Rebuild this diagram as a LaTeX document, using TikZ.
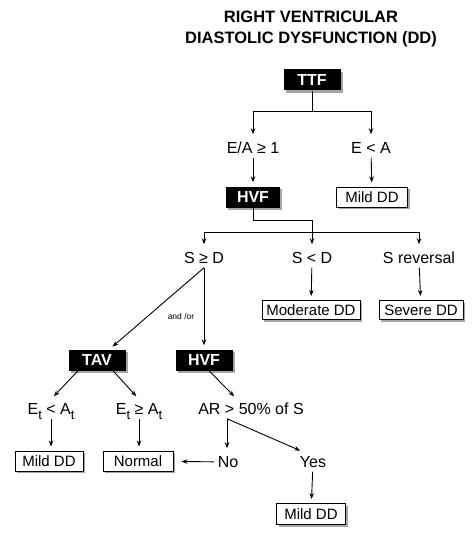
\documentclass[tikz,border=0pt]{standalone}
\usepackage{fontspec}
\setmainfont{Liberation Sans}
\usetikzlibrary{arrows.meta,shadows}
\newcommand{\sbt}{\raisebox{-0.28em}{\fontsize{13}{13}\selectfont t}}
\tikzset{
  lbl/.style={inner sep=0pt, outer sep=4pt, font=\fontsize{16}{18}\selectfont, text height=11.5pt, text depth=0pt},
  ttl/.style={inner sep=0pt, font=\bfseries\fontsize{16.5}{18}\selectfont},
  wbox/.style={draw, line width=1pt, fill=white, inner sep=0pt, minimum height=20pt,
    font=\fontsize{15}{17}\selectfont, text height=10.8pt, text depth=0pt,
    drop shadow={shadow xshift=2.2pt, shadow yshift=-2.2pt, fill=black!35, opacity=1}},
  bbox/.style={fill=black, text=white, inner sep=0pt, minimum height=21pt,
    font=\bfseries\fontsize{16}{18}\selectfont, text height=11.5pt, text depth=0pt,
    drop shadow={shadow xshift=2.2pt, shadow yshift=-2.2pt, fill=black!35, opacity=1}},
  arr/.style={line width=0.9pt, -{Stealth[length=6pt,width=4.5pt]}, shorten >=4pt},
  ln/.style={line width=0.9pt},
  small/.style={inner sep=0pt, font=\fontsize{8.5}{10}\selectfont}
}
\begin{document}
\begin{tikzpicture}[x=1pt,y=-1pt]
\useasboundingbox[fill=white] (0,0) rectangle (474,548);
% title
\node[ttl] (t1) at (311,16.5) {RIGHT VENTRICULAR};
\node[ttl] (t2) at (311,39) {DIASTOLIC DYSFUNCTION (DD)};
% level 1
\node[bbox, minimum width=57pt] (ttf) at (312,80) {TTF};
\node[lbl] (ea) at (253,148) {E/A ≥ 1};
\node[lbl] (elta) at (371,148) {E < A};
\node[bbox, minimum width=54pt] (hvfa) at (253,197) {HVF};
\node[wbox, minimum width=71pt] (milda) at (372,197) {Mild DD};
% level 2
\node[lbl] (sged) at (204,258) {S ≥ D};
\node[lbl] (sltd) at (312,258) {S < D};
\node[lbl] (srev) at (419,258) {S reversal};
\node[wbox, minimum width=98pt, minimum height=19pt] (mod) at (311,310) {Moderate DD};
\node[wbox, minimum width=84pt, minimum height=19pt] (sev) at (421,310) {Severe DD};
\node[small] (andor) at (181,316) {and /or};
% level 3
\node[bbox, minimum width=57pt] (tav) at (97,360) {TAV};
\node[bbox, minimum width=57pt] (hvfb) at (204,360) {HVF};
\node[lbl] (etlt) at (51,409) {E\sbt\ < A\sbt};
\node[lbl] (etge) at (139,409) {E\sbt\ ≥ A\sbt};
\node[wbox, minimum width=68pt] (mildb) at (49,461) {Mild DD};
\node[wbox, minimum width=70pt] (norm) at (138,461) {Normal};
\node[lbl] (ar) at (251,409) {AR > 50\% of S};
\node[lbl] (no) at (228,462) {No};
\node[lbl] (yes) at (313,462) {Yes};
\node[wbox, minimum width=69pt, minimum height=21pt] (mildc) at (311,514) {Mild DD};
% connectors
\coordinate (j1) at (312,111);
\draw[ln] (ttf.south) -- (j1);
\draw[arr] (j1) -| (ea.north);
\draw[arr] (j1) -| (elta.north);
\draw[arr] (ea) -- (hvfa);
\draw[arr] (elta) -- (milda);
\coordinate (j2) at (312,220);
\draw[arr] (hvfa.south) |- (j2) -- (sltd.north);
\coordinate (h1) at (204,232);
\coordinate (h2) at (419,232);
\draw[ln] (h1) -- (h2);
\draw[arr] (h1) -- (sged.north);
\draw[arr] (h2) -- (srev.north);
\draw[arr] (sltd) -- (mod);
\draw[arr] (srev) -- (sev);
\draw[arr] (sged.south) -- (tav);
\draw[arr] (sged.south) -- (hvfb.north);
\draw[arr] ([xshift=-19pt]tav.south) -- (etlt.north);
\draw[arr] ([xshift=16pt]tav.south) -- (etge.north);
\draw[arr] (etlt) -- (etlt.south |- mildb.north);
\draw[arr] (etge) -- (etge.south |- norm.north);
\draw[arr] ([xshift=5pt]hvfb.south) -- ([xshift=-14pt]ar.north);
\coordinate (j4) at ([xshift=-24pt]ar.south);
\draw[arr] (j4) -- (j4 |- no.north);
\draw[arr] (j4) -- ([xshift=-9pt]yes.north);
\draw[arr, shorten >=8pt] (no) -- (norm);
\draw[arr] (yes) -- (mildc);
\end{tikzpicture}
\end{document}
